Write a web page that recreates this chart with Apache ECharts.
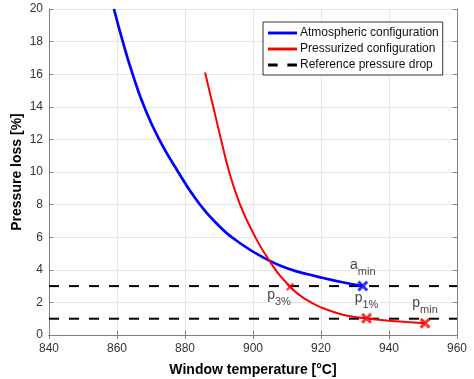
<!DOCTYPE html>
<html>
<head>
<meta charset="utf-8">
<script src="https://cdn.jsdelivr.net/npm/echarts@6/dist/echarts.min.js"></script>
<style>html,body{margin:0;padding:0;background:#fff;}#c{width:474px;height:379px;}</style>
</head>
<body>
<div id="c"></div>
<script>
// Data
const xTicks = [840, 860, 880, 900, 920, 940, 960];
const yTicks = [0, 2, 4, 6, 8, 10, 12, 14, 16, 18, 20];
const atmT = [859.1, 861.7, 864.6, 868.0, 872.4, 878.0, 883.4, 889.0, 896.2, 904.8, 910.9, 915.8, 920.7, 925.6, 932.3];
const atmP = [20, 18, 16, 14, 12, 10, 8.28, 6.9, 5.63, 4.56, 4.03, 3.74, 3.50, 3.27, 3.0];
const presT = [885.9, 888.3, 890.6, 893.0, 896.2, 899.6, 904.8, 910.9, 915.8, 920.7, 925.6, 930.5, 933.4, 940, 945, 950.6];
const presP = [16.1, 14, 12, 10, 8, 6.44, 4.56, 2.96, 2.15, 1.64, 1.29, 1.09, 1.02, 0.88, 0.8, 0.72];
const refLevels = [3, 1];
const refRange = [840, 960];
const markerNames = ['a', 'p', 'p', 'p'];
const markerSubs = ['min', '3%', '1%', 'min'];
const markerT = [932.3, 910.9, 933.4, 950.6];
const markerP = [3.0, 2.96, 1.02, 0.72];

const BLUE = '#0000ff', RED = '#ff0000';
const X_PATH = 'path://M0,2 L2,0 L5,3 L8,0 L10,2 L7,5 L10,8 L8,10 L5,7 L2,10 L0,8 L3,5 Z';
const LINE_ICON = 'path://M0,0 H30 V3 H0 Z';
const DASH_ICON = 'path://M0,0 H10 V3 H0 Z M20,0 H30 V3 H20 Z';
const zip = (a, b) => a.map((v, i) => [v, b[i]]);

const chart = echarts.init(document.getElementById('c'));
const font = 'Liberation Sans, Arial, sans-serif';

const markerColors = [BLUE, RED, RED, RED];
const markerSizes = [11, 8, 11, 11];
const labelOffsets = [[0, 2], [-11, 30], [0, 3], [0, 3]];

const series = [
  {
    name: 'Atmospheric configuration', type: 'line', data: zip(atmT, atmP),
    smooth: 0.5, symbol: 'none', lineStyle: { color: BLUE, width: 2.7 }, itemStyle: { color: BLUE }, z: 3
  },
  {
    name: 'Pressurized configuration', type: 'line', data: zip(presT, presP),
    smooth: 0.5, symbol: 'none', lineStyle: { color: RED, width: 2 }, itemStyle: { color: RED }, z: 3
  }
];
refLevels.forEach(lv => {
  series.push({
    name: 'Reference pressure drop', type: 'line',
    data: refRange.map(t => [t, lv]), symbol: 'none',
    lineStyle: { color: '#000', width: 2, type: [10, 10] }, itemStyle: { color: '#000' }, z: 2
  });
});
markerT.forEach((t, i) => {
  series.push({
    type: 'scatter', data: [[t, markerP[i]]], symbol: X_PATH, symbolSize: markerSizes[i],
    itemStyle: { color: markerColors[i] }, z: 5, silent: true,
    label: {
      show: true, position: 'top', offset: labelOffsets[i],
      formatter: '{b|' + markerNames[i] + '}{s|' + markerSubs[i] + '}',
      rich: {
        b: { fontSize: 14, fontFamily: font, color: '#111' },
        s: { fontSize: 11, fontFamily: font, color: '#111', padding: [14, 0, 0, 0] }
      }
    }
  });
});

chart.setOption({
  animation: false,
  backgroundColor: '#fff',
  grid: { left: 49, right: 17, top: 9, bottom: 44, containLabel: false, outerBoundsMode: 'none' },
  legend: {
    data: [
      { name: 'Atmospheric configuration', icon: LINE_ICON },
      { name: 'Pressurized configuration', icon: LINE_ICON },
      { name: 'Reference pressure drop', icon: DASH_ICON }
    ],
    orient: 'vertical', left: 263, top: 22,
    itemWidth: 29, itemHeight: 3, itemGap: 4,
    padding: [5, 4, 4, 5],
    borderColor: '#333', borderWidth: 1, backgroundColor: '#fff',
    textStyle: { fontSize: 12, fontFamily: font, color: '#111', padding: [0, 0, 0, -2] }
  },
  xAxis: [
    {
      type: 'value', min: 840, max: 960, interval: 20,
      name: 'Window temperature [°C]', nameLocation: 'middle', nameGap: 28, nameMoveOverlap: false,
      nameTextStyle: { fontSize: 14, fontWeight: 'bold', fontFamily: font, color: '#000' },
      axisLine: { show: true, lineStyle: { color: '#808080', width: 1 } },
      axisTick: { show: true, inside: true, length: 4, lineStyle: { color: '#808080' } },
      axisLabel: { fontSize: 12, fontFamily: font, color: '#333', margin: 8,
        formatter: v => xTicks.includes(v) ? String(v) : '' },
      splitLine: { show: true, lineStyle: { color: '#e6e6e6', width: 1 } }
    },
    {
      type: 'value', min: 840, max: 960, interval: 20, position: 'top',
      axisLine: { show: true, lineStyle: { color: '#808080', width: 1 } },
      axisTick: { show: true, inside: true, length: 4, lineStyle: { color: '#808080' } },
      axisLabel: { show: false }, splitLine: { show: false }
    }
  ],
  yAxis: [
    {
      type: 'value', min: 0, max: 20, interval: 2,
      name: 'Pressure loss [%]', nameLocation: 'middle', nameGap: 25, nameMoveOverlap: false,
      nameTextStyle: { fontSize: 14, fontWeight: 'bold', fontFamily: font, color: '#000' },
      axisLine: { show: true, lineStyle: { color: '#808080', width: 1 } },
      axisTick: { show: true, inside: true, length: 4, lineStyle: { color: '#808080' } },
      axisLabel: { fontSize: 12, fontFamily: font, color: '#333', margin: 6,
        formatter: v => yTicks.includes(v) ? String(v) : '' },
      splitLine: { show: true, lineStyle: { color: '#e6e6e6', width: 1 } }
    },
    {
      type: 'value', min: 0, max: 20, interval: 2, position: 'right',
      axisLine: { show: true, lineStyle: { color: '#808080', width: 1 } },
      axisTick: { show: true, inside: true, length: 4, lineStyle: { color: '#808080' } },
      axisLabel: { show: false }, splitLine: { show: false }
    }
  ],
  series: series
});
</script>
</body>
</html>
